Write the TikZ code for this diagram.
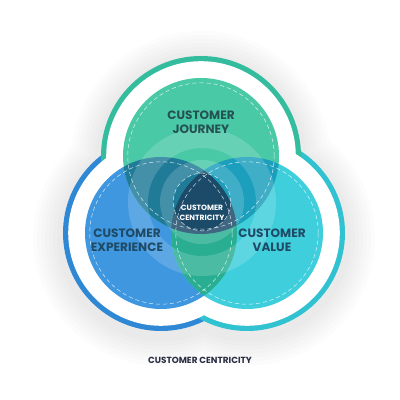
\documentclass[tikz,border=0pt]{standalone}
\usepackage{fontspec}
\setsansfont{Poppins}
\usepackage{xcolor}
\usetikzlibrary{positioning}

\definecolor{joufill}{HTML}{4AC9A7}
\definecolor{expfill}{HTML}{3E97DF}
\definecolor{valfill}{HTML}{3FCFDC}
\definecolor{jouband}{HTML}{33BC9E}
\definecolor{expband}{HTML}{2F88D4}
\definecolor{valband}{HTML}{31C2D1}
\definecolor{jefill}{HTML}{1F7B98}
\definecolor{jvfill}{HTML}{1C9FBD}
\definecolor{evfill}{HTML}{2AAE92}
\definecolor{centfill}{HTML}{1B4B69}
\definecolor{darktext}{HTML}{1E4A66}
\definecolor{titletext}{HTML}{2A2E44}

\tikzstyle{title} = [font=\sffamily\bfseries\fontsize{8.6}{9.6}\selectfont, align=center, text=darktext]
\tikzstyle{small} = [font=\sffamily\bfseries\fontsize{5.4}{6.6}\selectfont, align=center, text=white]
\tikzstyle{dashline} = [white, densely dashed, line width=0.35pt, opacity=0.8]

\begin{document}
\begin{tikzpicture}[x=1cm, y=1cm]
\useasboundingbox (0,0) rectangle (10,10);
\fill[white] (0,0) rectangle (10,10);

% Place centres
\coordinate (jc) at (5.025,6.1);
\coordinate (ec) at (4.025,4.175);
\coordinate (vc) at (6.175,4.175);
\coordinate (cc) at (5.05,4.95);

% Shadow
\foreach \s in {0.75,0.65,...,0.05}{
  \fill[black, opacity=0.012] ([yshift=-0.12cm]jc) circle (2.5+\s)
    ([yshift=-0.12cm]ec) circle (2.45+\s) ([yshift=-0.12cm]vc) circle (2.45+\s);
}

% Outer bands
\fill[expband] (ec) circle (2.45);
\fill[valband] (vc) circle (2.45);
\fill[jouband] (jc) circle (2.5);
\fill[white] (jc) circle (2.37) (ec) circle (2.32) (vc) circle (2.32);

% Place circles
\fill[expfill] (ec) circle (1.9);
\fill[valfill] (vc) circle (1.9);
\fill[joufill] (jc) circle (1.95);

% Overlaps
\begin{scope}
  \clip (jc) circle (1.95);
  \fill[jefill] (ec) circle (1.9);
  \fill[jvfill] (vc) circle (1.9);
\end{scope}
\begin{scope}
  \clip (ec) circle (1.9);
  \fill[evfill] (vc) circle (1.9);
\end{scope}
\begin{scope}
  \clip (jc) circle (1.95);
  \clip (ec) circle (1.9);
  \fill[centfill] (vc) circle (1.9);
\end{scope}

% Rings round the centre
\fill[white, opacity=0.16, even odd rule] (cc) circle (1.85) (cc) circle (1.35);
\fill[white, opacity=0.16, even odd rule] (cc) circle (1.05) (cc) circle (0.72);

% Dashed lines
\draw[dashline] (jc) circle (1.83);
\draw[dashline] (ec) circle (1.78);
\draw[dashline] (vc) circle (1.78);
\draw[dashline] (cc) circle (0.72);

% Place labels
\node [title, text=titletext!60!jouband!80!black] (journey) at (5.025,6.95) {CUSTOMER\\JOURNEY};
\node [title] (experience) at (3.175,4.0) {CUSTOMER\\EXPERIENCE};
\node [title] (value) at (6.8,4.0) {CUSTOMER\\VALUE};
\node [small] (centre) at (5.05,4.68) {CUSTOMER\\CENTRICITY};
\node [title, text=titletext, font=\sffamily\bfseries\fontsize{6.3}{7}\selectfont] (caption) at (5.0,0.98) {CUSTOMER CENTRICITY};

\end{tikzpicture}
\end{document}
